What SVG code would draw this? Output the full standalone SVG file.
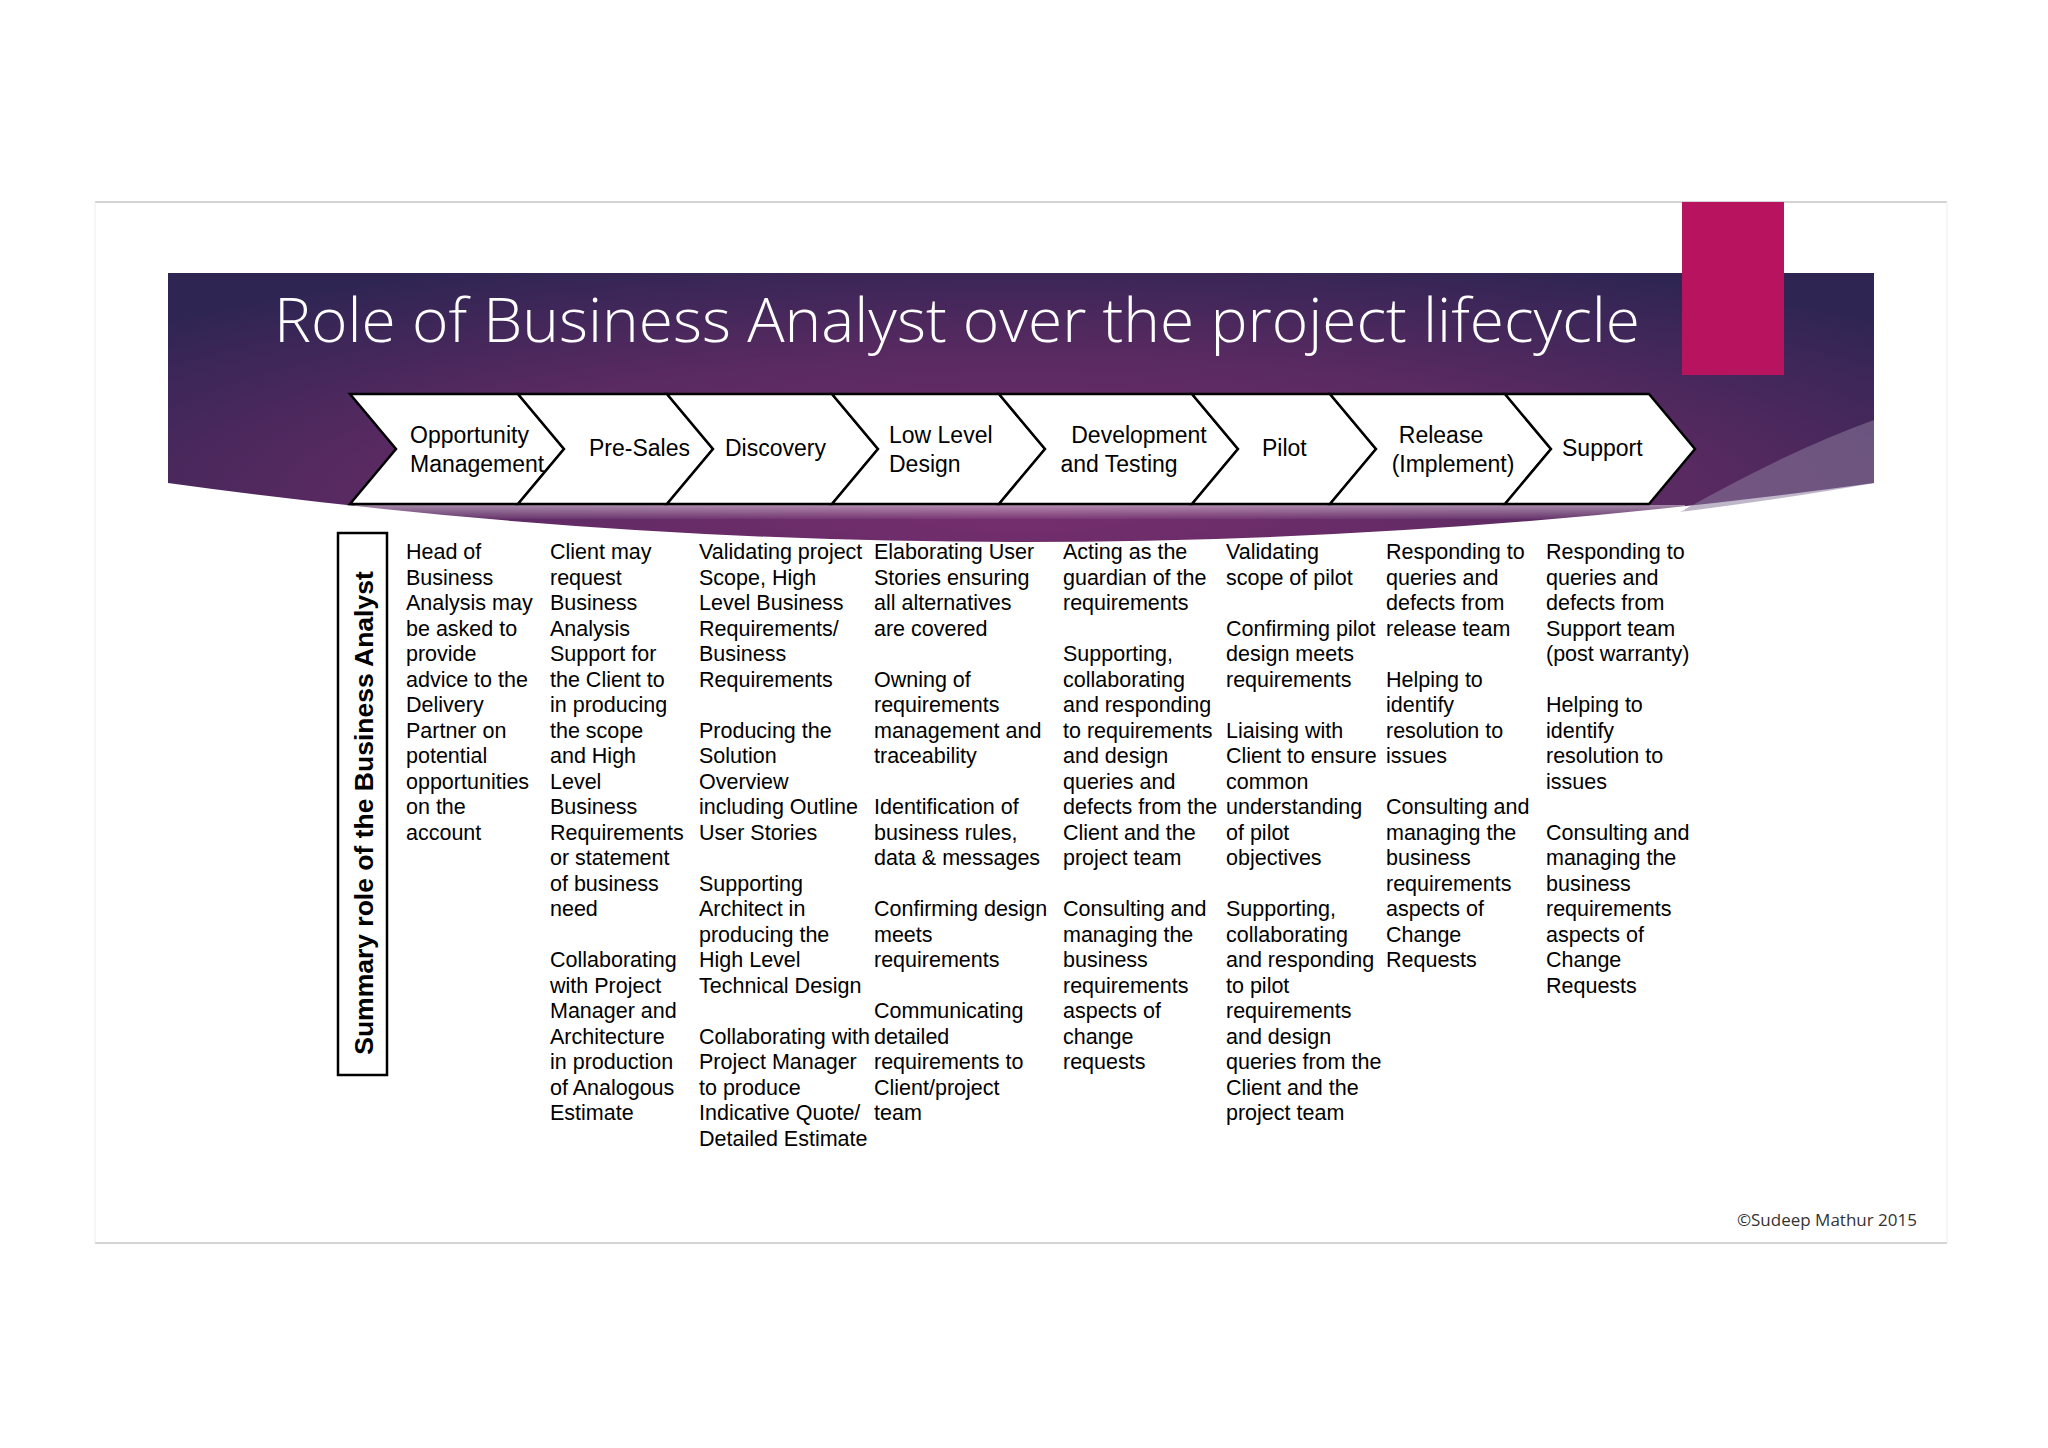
<svg xmlns="http://www.w3.org/2000/svg" width="2048" height="1448" viewBox="0 0 2048 1448">
<defs>
<radialGradient id="bg" cx="0.5" cy="0.85" r="0.7" gradientTransform="translate(0.5,0.85) scale(1,1.4) translate(-0.5,-0.85)">
<stop offset="0" stop-color="#772e6f"/>
<stop offset="0.55" stop-color="#5a2a62"/>
<stop offset="1" stop-color="#2e2553"/>
</radialGradient>
<linearGradient id="sh" x1="0" y1="0" x2="0" y2="1">
<stop offset="0" stop-color="#ffffff" stop-opacity="0.45"/>
<stop offset="1" stop-color="#ffffff" stop-opacity="0.05"/>
</linearGradient>
</defs>
<style>
.chev{fill:#ffffff;stroke:#000;stroke-width:2.5}
.cl{font-family:"Liberation Sans",Arial,sans-serif;font-size:23px;fill:#000}
.col{font-family:"Liberation Sans",Arial,sans-serif;font-size:21.5px;fill:#000}
</style>
<rect width="2048" height="1448" fill="#fff"/>
<line x1="95" y1="202" x2="1947" y2="202" stroke="#d4d4d4" stroke-width="2"/>
<line x1="95" y1="1243" x2="1947" y2="1243" stroke="#d4d4d4" stroke-width="2"/>
<line x1="1947" y1="202" x2="1947" y2="1243" stroke="#eeeeee" stroke-width="1"/>
<line x1="95" y1="202" x2="95" y2="1243" stroke="#eeeeee" stroke-width="1"/>
<g id="band">
<path d="M168,273 H1874 V483 Q1021,601 168,483 Z" fill="url(#bg)"/>
<path d="M1874,420 L1874,483 Q1790,498 1680,512 Q1790,450 1874,420 Z" fill="#8a7a9c" opacity="0.55"/>
</g>
<rect id="accent" x="1682" y="202" width="102" height="173" fill="#b8135f"/>
<text id="title" x="274" y="342" font-family="'Open Sans','DejaVu Sans',sans-serif" font-weight="300" font-size="60" fill="#fff" textLength="1366" lengthAdjust="spacingAndGlyphs">Role of Business Analyst over the project lifecycle</text>
<rect x="355" y="505" width="1330" height="14" fill="url(#sh)"/>
<g id="chevrons">
<g id="c1"><polygon class="chev" points="350,394 518,394 564,449 518,504 350,504 396,449"/>
<text class="cl" x="410" y="443">Opportunity</text><text class="cl" x="410" y="472">Management</text></g>
<g id="c2"><polygon class="chev" points="518,394 667,394 713,449 667,504 518,504 564,449"/>
<text class="cl" x="589" y="456">Pre-Sales</text></g>
<g id="c3"><polygon class="chev" points="667,394 832,394 878,449 832,504 667,504 713,449"/>
<text class="cl" x="725" y="456">Discovery</text></g>
<g id="c4"><polygon class="chev" points="832,394 999,394 1045,449 999,504 832,504 878,449"/>
<text class="cl" x="889" y="443">Low Level</text><text class="cl" x="889" y="472">Design</text></g>
<g id="c5"><polygon class="chev" points="999,394 1192,394 1238,449 1192,504 999,504 1045,449"/>
<text class="cl" x="1139" y="443" text-anchor="middle">Development</text><text class="cl" x="1119" y="472" text-anchor="middle">and Testing</text></g>
<g id="c6"><polygon class="chev" points="1192,394 1330,394 1376,449 1330,504 1192,504 1238,449"/>
<text class="cl" x="1262" y="456">Pilot</text></g>
<g id="c7"><polygon class="chev" points="1330,394 1505,394 1551,449 1505,504 1330,504 1376,449"/>
<text class="cl" x="1441" y="443" text-anchor="middle">Release</text><text class="cl" x="1453" y="472" text-anchor="middle">(Implement)</text></g>
<g id="c8"><polygon class="chev" points="1505,394 1649,394 1695,449 1649,504 1505,504 1551,449"/>
<text class="cl" x="1562" y="456">Support</text></g>
</g>
<g id="sidelabel">
<rect x="338" y="533" width="49" height="542" fill="#fff" stroke="#000" stroke-width="2.5"/>
<text transform="translate(373,813) rotate(-90)" text-anchor="middle" font-family="'Liberation Sans',Arial,sans-serif" font-weight="bold" font-size="26.5" fill="#000">Summary role of the Business Analyst</text>
</g>
<g id="columns">
<text class="col" y="559"><tspan x="406">Head of</tspan><tspan x="406" dy="25.5">Business</tspan><tspan x="406" dy="25.5">Analysis may</tspan><tspan x="406" dy="25.5">be asked to</tspan><tspan x="406" dy="25.5">provide</tspan><tspan x="406" dy="25.5">advice to the</tspan><tspan x="406" dy="25.5">Delivery</tspan><tspan x="406" dy="25.5">Partner on</tspan><tspan x="406" dy="25.5">potential</tspan><tspan x="406" dy="25.5">opportunities</tspan><tspan x="406" dy="25.5">on the</tspan><tspan x="406" dy="25.5">account</tspan></text>
<text class="col" y="559"><tspan x="550">Client may</tspan><tspan x="550" dy="25.5">request</tspan><tspan x="550" dy="25.5">Business</tspan><tspan x="550" dy="25.5">Analysis</tspan><tspan x="550" dy="25.5">Support for</tspan><tspan x="550" dy="25.5">the Client to</tspan><tspan x="550" dy="25.5">in producing</tspan><tspan x="550" dy="25.5">the scope</tspan><tspan x="550" dy="25.5">and High</tspan><tspan x="550" dy="25.5">Level</tspan><tspan x="550" dy="25.5">Business</tspan><tspan x="550" dy="25.5">Requirements</tspan><tspan x="550" dy="25.5">or statement</tspan><tspan x="550" dy="25.5">of business</tspan><tspan x="550" dy="25.5">need</tspan><tspan x="550" dy="51">Collaborating</tspan><tspan x="550" dy="25.5">with Project</tspan><tspan x="550" dy="25.5">Manager and</tspan><tspan x="550" dy="25.5">Architecture</tspan><tspan x="550" dy="25.5">in production</tspan><tspan x="550" dy="25.5">of Analogous</tspan><tspan x="550" dy="25.5">Estimate</tspan></text>
<text class="col" y="559"><tspan x="699">Validating project</tspan><tspan x="699" dy="25.5">Scope, High</tspan><tspan x="699" dy="25.5">Level Business</tspan><tspan x="699" dy="25.5">Requirements/</tspan><tspan x="699" dy="25.5">Business</tspan><tspan x="699" dy="25.5">Requirements</tspan><tspan x="699" dy="51">Producing the</tspan><tspan x="699" dy="25.5">Solution</tspan><tspan x="699" dy="25.5">Overview</tspan><tspan x="699" dy="25.5">including Outline</tspan><tspan x="699" dy="25.5">User Stories</tspan><tspan x="699" dy="51">Supporting</tspan><tspan x="699" dy="25.5">Architect in</tspan><tspan x="699" dy="25.5">producing the</tspan><tspan x="699" dy="25.5">High Level</tspan><tspan x="699" dy="25.5">Technical Design</tspan><tspan x="699" dy="51">Collaborating with</tspan><tspan x="699" dy="25.5">Project Manager</tspan><tspan x="699" dy="25.5">to produce</tspan><tspan x="699" dy="25.5">Indicative Quote/</tspan><tspan x="699" dy="25.5">Detailed Estimate</tspan></text>
<text class="col" y="559"><tspan x="874">Elaborating User</tspan><tspan x="874" dy="25.5">Stories ensuring</tspan><tspan x="874" dy="25.5">all alternatives</tspan><tspan x="874" dy="25.5">are covered</tspan><tspan x="874" dy="51">Owning of</tspan><tspan x="874" dy="25.5">requirements</tspan><tspan x="874" dy="25.5">management and</tspan><tspan x="874" dy="25.5">traceability</tspan><tspan x="874" dy="51">Identification of</tspan><tspan x="874" dy="25.5">business rules,</tspan><tspan x="874" dy="25.5">data &amp; messages</tspan><tspan x="874" dy="51">Confirming design</tspan><tspan x="874" dy="25.5">meets</tspan><tspan x="874" dy="25.5">requirements</tspan><tspan x="874" dy="51">Communicating</tspan><tspan x="874" dy="25.5">detailed</tspan><tspan x="874" dy="25.5">requirements to</tspan><tspan x="874" dy="25.5">Client/project</tspan><tspan x="874" dy="25.5">team</tspan></text>
<text class="col" y="559"><tspan x="1063">Acting as the</tspan><tspan x="1063" dy="25.5">guardian of the</tspan><tspan x="1063" dy="25.5">requirements</tspan><tspan x="1063" dy="51">Supporting,</tspan><tspan x="1063" dy="25.5">collaborating</tspan><tspan x="1063" dy="25.5">and responding</tspan><tspan x="1063" dy="25.5">to requirements</tspan><tspan x="1063" dy="25.5">and design</tspan><tspan x="1063" dy="25.5">queries and</tspan><tspan x="1063" dy="25.5">defects from the</tspan><tspan x="1063" dy="25.5">Client and the</tspan><tspan x="1063" dy="25.5">project team</tspan><tspan x="1063" dy="51">Consulting and</tspan><tspan x="1063" dy="25.5">managing the</tspan><tspan x="1063" dy="25.5">business</tspan><tspan x="1063" dy="25.5">requirements</tspan><tspan x="1063" dy="25.5">aspects of</tspan><tspan x="1063" dy="25.5">change</tspan><tspan x="1063" dy="25.5">requests</tspan></text>
<text class="col" y="559"><tspan x="1226">Validating</tspan><tspan x="1226" dy="25.5">scope of pilot</tspan><tspan x="1226" dy="51">Confirming pilot</tspan><tspan x="1226" dy="25.5">design meets</tspan><tspan x="1226" dy="25.5">requirements</tspan><tspan x="1226" dy="51">Liaising with</tspan><tspan x="1226" dy="25.5">Client to ensure</tspan><tspan x="1226" dy="25.5">common</tspan><tspan x="1226" dy="25.5">understanding</tspan><tspan x="1226" dy="25.5">of pilot</tspan><tspan x="1226" dy="25.5">objectives</tspan><tspan x="1226" dy="51">Supporting,</tspan><tspan x="1226" dy="25.5">collaborating</tspan><tspan x="1226" dy="25.5">and responding</tspan><tspan x="1226" dy="25.5">to pilot</tspan><tspan x="1226" dy="25.5">requirements</tspan><tspan x="1226" dy="25.5">and design</tspan><tspan x="1226" dy="25.5">queries from the</tspan><tspan x="1226" dy="25.5">Client and the</tspan><tspan x="1226" dy="25.5">project team</tspan></text>
<text class="col" y="559"><tspan x="1386">Responding to</tspan><tspan x="1386" dy="25.5">queries and</tspan><tspan x="1386" dy="25.5">defects from</tspan><tspan x="1386" dy="25.5">release team</tspan><tspan x="1386" dy="51">Helping to</tspan><tspan x="1386" dy="25.5">identify</tspan><tspan x="1386" dy="25.5">resolution to</tspan><tspan x="1386" dy="25.5">issues</tspan><tspan x="1386" dy="51">Consulting and</tspan><tspan x="1386" dy="25.5">managing the</tspan><tspan x="1386" dy="25.5">business</tspan><tspan x="1386" dy="25.5">requirements</tspan><tspan x="1386" dy="25.5">aspects of</tspan><tspan x="1386" dy="25.5">Change</tspan><tspan x="1386" dy="25.5">Requests</tspan></text>
<text class="col" y="559"><tspan x="1546">Responding to</tspan><tspan x="1546" dy="25.5">queries and</tspan><tspan x="1546" dy="25.5">defects from</tspan><tspan x="1546" dy="25.5">Support team</tspan><tspan x="1546" dy="25.5">(post warranty)</tspan><tspan x="1546" dy="51">Helping to</tspan><tspan x="1546" dy="25.5">identify</tspan><tspan x="1546" dy="25.5">resolution to</tspan><tspan x="1546" dy="25.5">issues</tspan><tspan x="1546" dy="51">Consulting and</tspan><tspan x="1546" dy="25.5">managing the</tspan><tspan x="1546" dy="25.5">business</tspan><tspan x="1546" dy="25.5">requirements</tspan><tspan x="1546" dy="25.5">aspects of</tspan><tspan x="1546" dy="25.5">Change</tspan><tspan x="1546" dy="25.5">Requests</tspan></text>
</g>
<text id="copyright" x="1917" y="1226" text-anchor="end" font-family="'Open Sans','DejaVu Sans',sans-serif" font-size="17" fill="#333">©Sudeep Mathur  2015</text>
</svg>
